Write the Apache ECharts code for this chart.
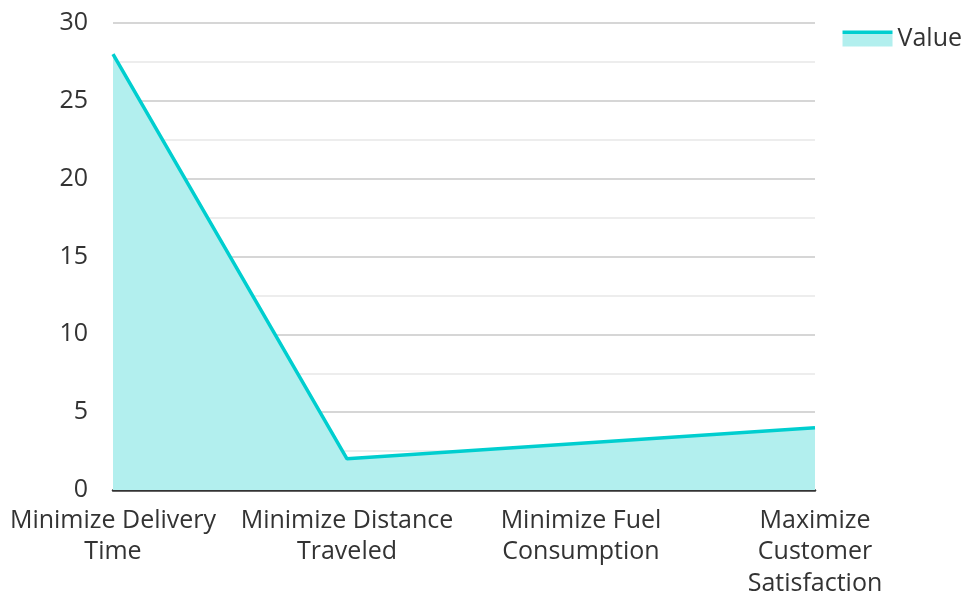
<!DOCTYPE html>
<html>
<head>
<meta charset="utf-8">
<style>
  html, body { margin: 0; padding: 0; background: #fff; }
  #chart { width: 965px; height: 594px; }
</style>
<script src="https://cdn.jsdelivr.net/npm/echarts@6/dist/echarts.min.js"></script>
</head>
<body>
<div id="chart"></div>
<script>
const categories = [
  'Minimize Delivery\nTime',
  'Minimize Distance\nTraveled',
  'Minimize Fuel\nConsumption',
  'Maximize\nCustomer\nSatisfaction'
]
const values = [28, 2, 3, 4]
const seriesName = 'Value'

const lineColor = '#00cecf'
const fillColor = '#b2efee'

const chart = echarts.init(document.getElementById('chart'), null, { renderer: 'canvas' })
chart.setOption({
  animation: false,
  textStyle: { fontFamily: 'Open Sans' },
  grid: { left: 113, right: 150, top: 23, bottom: 104, outerBoundsMode: 'none' },
  legend: {
    right: -2,
    top: 21,
    icon: 'rect',
    itemWidth: 50,
    itemHeight: 16,
    itemGap: 8,
    itemStyle: {
      color: new echarts.graphic.LinearGradient(0, 0, 0, 1, [
        { offset: 0, color: lineColor },
        { offset: 0.22, color: lineColor },
        { offset: 0.22, color: fillColor },
        { offset: 1, color: fillColor }
      ])
    },
    textStyle: { fontSize: 25, color: '#333', fontFamily: 'Open Sans' },
    data: [seriesName]
  },
  xAxis: {
    type: 'category',
    data: categories,
    boundaryGap: false,
    axisLine: { lineStyle: { color: '#333', width: 2.5 } },
    axisTick: { show: false },
    axisLabel: { color: '#333', fontSize: 25, lineHeight: 31.5, margin: 15, interval: 0 }
  },
  yAxis: {
    type: 'value',
    min: 0,
    max: 30,
    interval: 5,
    axisLine: { show: false },
    axisTick: { show: false },
    axisLabel: { color: '#333', fontSize: 25, margin: 25 },
    splitLine: { lineStyle: { color: '#c8c8c8', width: 1.5 } },
    minorTick: { show: false, splitNumber: 2 },
    minorSplitLine: { show: true, lineStyle: { color: '#e8e8e8', width: 1.5 } }
  },
  series: [{
    name: seriesName,
    type: 'line',
    data: values,
    symbol: 'none',
    lineStyle: { color: lineColor, width: 3.5 },
    itemStyle: { color: lineColor },
    areaStyle: { color: fillColor, opacity: 1 }
  }]
})
</script>
</body>
</html>
